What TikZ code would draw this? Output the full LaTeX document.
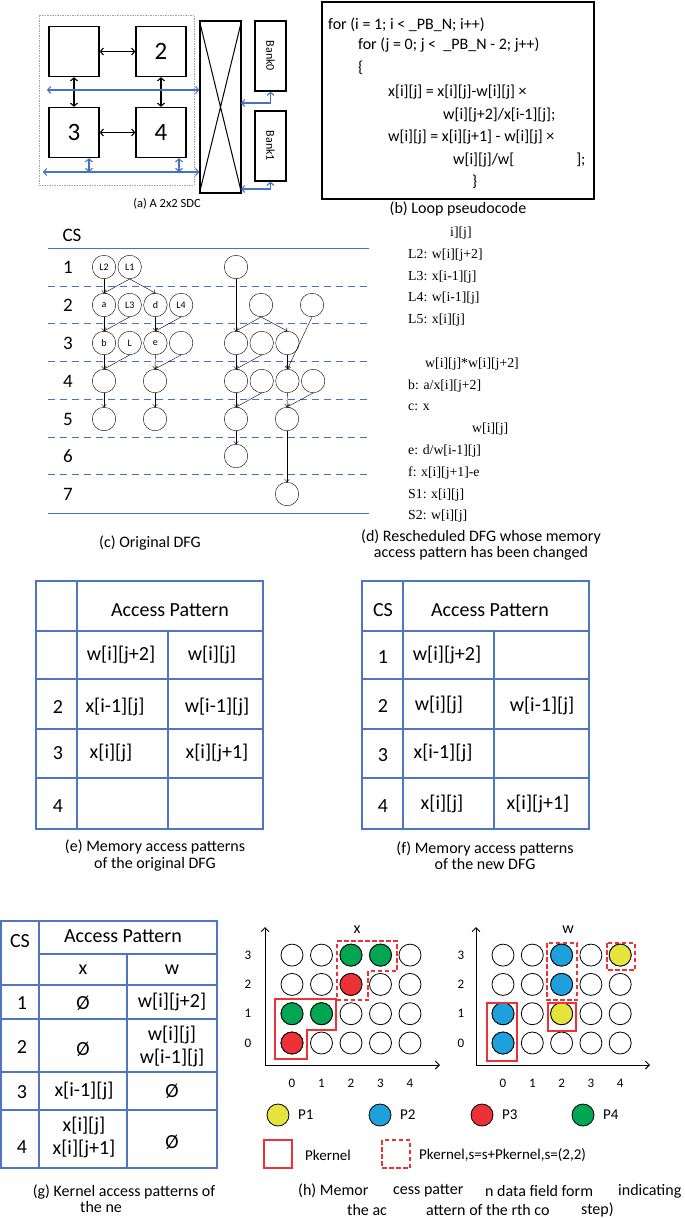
\documentclass[tikz,border=0pt]{standalone}
\usepackage{fontspec}
\setmainfont{Carlito}
\newfontfamily\timesfont{Liberation Serif}
\usetikzlibrary{arrows.meta,positioning}

\definecolor{lineblue}{RGB}{68,114,196}
\definecolor{tabblue}{RGB}{78,118,196}
\definecolor{pgreen}{RGB}{0,166,81}
\definecolor{pred}{RGB}{237,50,55}
\definecolor{pblue}{RGB}{30,160,220}
\definecolor{pyellow}{RGB}{228,228,60}

\tikzset{
  pe/.style={draw,line width=1.4pt,minimum size=50pt,inner sep=0pt,font=\fontsize{25}{28}\selectfont},
  bank/.style={draw,line width=1.4pt,minimum width=31pt,minimum height=70pt,inner sep=0pt,font=\fontsize{12}{13}\selectfont},
  link/.style={line width=1.1pt,{Straight Barb[length=3pt,width=7pt]}-{Straight Barb[length=3pt,width=7pt]}},
  bus/.style={link,lineblue},
  codeline/.style={anchor=west,inner sep=0pt,font=\fontsize{16}{18}\selectfont},
  capt/.style={align=center,font=\fontsize{16}{16.5}\selectfont},
  op/.style={circle,draw,minimum size=23.5pt,inner sep=0pt,font=\fontsize{10}{11}\selectfont},
  dep/.style={-{To[length=3pt,width=5pt]}},
  lvl/.style={lineblue,line width=1pt,dash pattern=on 7pt off 5pt},
  rowno/.style={font=\fontsize{19}{21}\selectfont},
  stmt/.style={anchor=west,inner sep=0pt,font=\timesfont\fontsize{13.8}{15}\selectfont},
  tab/.style={tabblue,line width=1.1pt},
  cell/.style={align=center,font=\fontsize{20}{23}\selectfont},
  dot/.style={circle,draw,line width=0.8pt,minimum size=22pt,inner sep=0pt,fill=white},
  kern/.style={pred,line width=1.1pt},
  kerns/.style={kern,dash pattern=on 4.5pt off 2.5pt},
  axis/.style={line width=1pt,-{Straight Barb[length=4pt,width=8pt]}},
  tick/.style={font=\fontsize{13}{14}\selectfont},
  keylabel/.style={anchor=west,inner sep=0pt,font=\fontsize{15}{16}\selectfont},
  hcap/.style={anchor=west,inner sep=0pt,font=\fontsize{16}{17}\selectfont},
}

\begin{document}
\begin{tikzpicture}[x=1pt,y=-1pt,node distance=1.8pt]
\useasboundingbox (0,0) rectangle (685,1218);

% (a) the SDC
\draw[gray!70,dash pattern=on 1.5pt off 1pt] (39,15) rectangle (194,185);
\node[pe] (pe1) at (74,51.5) {};
\node[pe] (pe2) at (161,51.5) {2};
\node[pe] (pe3) at (74,132.5) {3};
\node[pe] (pe4) at (161,132.5) {4};
\node[draw,line width=1.4pt,minimum width=41pt,minimum height=172pt] (xbar) at (220.5,107) {};
\draw[line width=1pt] (xbar.north west) -- (xbar.south east) (xbar.north east) -- (xbar.south west);
\node[bank] (bank0) at (270.5,56) {\rotatebox{-90}{Bank0}};
\node[bank] (bank1) at (270.5,146) {\rotatebox{-90}{Bank1}};

\draw[link] (pe1) -- (pe2);
\draw[link] (pe3) -- (pe4);
\draw[link] (pe1) -- (pe3);
\draw[link] (pe2) -- (pe4);

\coordinate (busA) at (47,90);
\coordinate (busB) at (43,172);
\draw[bus] (busA) -- (busA -| xbar.west);
\draw[bus] (busB) -- (busB -| xbar.west);
\draw[bus] ([xshift=15pt]pe3.south) -- ([xshift=15pt]pe3.south |- busB);
\draw[bus] ([xshift=18pt]pe4.south) -- ([xshift=18pt]pe4.south |- busB);
\coordinate (port0) at (241,103);
\coordinate (port1) at (241,189);
\draw[bus] (port0) -| (bank0.south);
\draw[bus] (port1) -| (bank1.south);
\node[capt,font=\fontsize{12.5}{14}\selectfont] (capa) at (167,204) {(a) A 2x2 SDC};

% (b) the loop
\node[draw,line width=1.4pt,minimum width=272pt,minimum height=197pt] (code) at (458,100.5) {};
\node[codeline] (code1) at (328,25) {for (i = 1; i < \_PB\_N; i++)};
\node[codeline] (code2) at (358,45) {for (j = 0; j <\ \ \_PB\_N - 2; j++)};
\node[codeline] (code3) at (358,68) {\{};
\node[codeline] (code4) at (388,92) {x[i][j] = x[i][j]-w[i][j] ×};
\node[codeline] (code5) at (443,115) {w[i][j+2]/x[i-1][j];};
\node[codeline] (code6) at (388,137) {w[i][j] = x[i][j+1] - w[i][j] ×};
\node[codeline] (code7) at (453,160) {w[i][j]/w[\hspace{62pt}];};
\node[codeline] (code8) at (472,182) {\}};
\node[capt] (capb) at (458,209) {(b) Loop pseudocode};

% (c) control steps
\node[rowno,anchor=west] (cs) at (59,235) {CS};
\draw[lineblue,line width=1pt] (48,248) -- (369,248);
\foreach \y in {286,323,361,399,437,474}
  \draw[lvl] (48,\y) -- (369,\y);
\draw[lineblue,line width=1pt] (48,513) -- (369,513);
\foreach \n/\y in {1/267,2/305,3/343,4/381,5/419,6/456,7/494}
  \node[rowno] (cs\n) at (68,\y) {\n};

\node[op] (l2) at (104,267) {L2};
\node[op,right=of l2] (l1) {L1};
\node[op] (a) at (104,305) {a};
\node[op,right=of a] (l3) {L3};
\node[op,right=of l3] (d) {d};
\node[op,right=of d] (l4) {L4};
\node[op] (b) at (104,343) {b};
\node[op,right=of b] (l5) {L};
\node[op,right=of l5] (e) {e};
\node[op,right=of e] (f) {};
\node[op] (m1) at (104,381) {};
\node[op] (m2) at (155,381) {};
\node[op] (s1) at (104,419) {};
\node[op] (s2) at (155,419) {};

\node[op] (r1) at (236,267) {};
\node[op] (r2a) at (261,305) {};
\node[op] (r2b) at (312,305) {};
\node[op] (r3a) at (236,343) {};
\node[op,right=of r3a] (r3b) {};
\node[op,right=of r3b] (r3c) {};
\node[op] (r4a) at (236,381) {};
\node[op,right=of r4a] (r4b) {};
\node[op,right=of r4b] (r4c) {};
\node[op,right=of r4c] (r4d) {};
\node[op] (r5a) at (236,419) {};
\node[op] (r5b) at (287,419) {};
\node[op] (r6) at (236,456) {};
\node[op] (r7) at (287,494) {};

\foreach \s/\t in {l2/a,l1/a,l1/d,a/b,l3/b,d/e,l4/e,b/m1,l5/m1,e/m2,f/m2,m1/s1,m2/s2,
    r1/r3a,r2a/r3a,r2a/r3c,r2b/r4c,r3a/r4a,r3b/r4a,r3c/r4c,r4a/r5a,r4b/r5a,r4c/r5b,r4d/r5b,r5a/r6,r5b/r7}
  \draw[dep] (\s.south) -- (\t.north);
\node[capt] (capc) at (150,543) {(c) Original DFG};

% (d) statements
\node[stmt] (st0) at (450,233) {i][j]};
\node[stmt] (st1) at (408,255) {L2: w[i][j+2]};
\node[stmt] (st2) at (408,277) {L3: x[i-1][j]};
\node[stmt] (st3) at (408,298) {L4: w[i-1][j]};
\node[stmt] (st4) at (408,320) {L5: x[i][j]};
\node[stmt] (st5) at (425,364) {w[i][j]*w[i][j+2]};
\node[stmt] (st6) at (408,386) {b: a/x[i][j+2]};
\node[stmt] (st7) at (408,407) {c: x};
\node[stmt] (st8) at (472,429) {w[i][j]};
\node[stmt] (st9) at (408,451) {e: d/w[i-1][j]};
\node[stmt] (st10) at (408,473) {f: x[i][j+1]-e};
\node[stmt] (st11) at (408,495) {S1: x[i][j]};
\node[stmt] (st12) at (408,516) {S2: w[i][j]};
\node[capt] (capd) at (481,545) {(d) Rescheduled DFG whose memory\\access pattern has been changed};

% (e) original patterns
\draw[tab] (36,581) rectangle (263,829);
\draw[tab] (77,581) -- (77,829);
\draw[tab] (168,631) -- (168,829);
\foreach \y in {631,679,729,778}
  \draw[tab] (36,\y) -- (263,\y);
\node[cell] (eh) at (170,610) {Access Pattern};
\node[cell] (e1a) at (121,655) {w[i][j+2]};
\node[cell] (e1b) at (212,655) {w[i][j]};
\node[cell] (e2) at (58,707) {2};
\node[cell] (e2a) at (115,707) {x[i-1][j]};
\node[cell] (e2b) at (217,707) {w[i-1][j]};
\node[cell] (e3) at (58,753) {3};
\node[cell] (e3a) at (111,753) {x[i][j]};
\node[cell] (e3b) at (217,753) {x[i][j+1]};
\node[cell] (e4) at (58,806) {4};
\node[capt] (cape) at (155,855.5) {(e) Memory access patterns\\of the original DFG};

% (f) new patterns
\draw[tab] (362,581) rectangle (589,829);
\draw[tab] (403,581) -- (403,829);
\draw[tab] (494,631) -- (494,829);
\foreach \y in {631,679,729,778}
  \draw[tab] (362,\y) -- (589,\y);
\node[cell] (fcs) at (383,610) {CS};
\node[cell] (fh) at (490,610) {Access Pattern};
\node[cell] (f1) at (383,657) {1};
\node[cell] (f1a) at (447,655) {w[i][j+2]};
\node[cell] (f2) at (383,706) {2};
\node[cell] (f2a) at (439,705) {w[i][j]};
\node[cell] (f2b) at (542,706) {w[i-1][j]};
\node[cell] (f3) at (383,755) {3};
\node[cell] (f3a) at (443,753) {x[i-1][j]};
\node[cell] (f4) at (383,806) {4};
\node[cell] (f4a) at (442,804) {x[i][j]};
\node[cell] (f4b) at (538,804) {x[i][j+1]};
\node[capt] (capf) at (485,855.5) {(f) Memory access patterns\\of the new DFG};

% (g) kernel patterns
\draw[tab] (1,921) rectangle (217,1168);
\draw[tab] (39,921) -- (39,1168);
\draw[tab] (39,954) -- (217,954);
\draw[tab] (127,954) -- (127,1168);
\foreach \y in {985,1019,1072,1110}
  \draw[tab] (1,\y) -- (217,\y);
\node[cell] (gcs) at (20,941) {CS};
\node[cell] (gh) at (123,936) {Access Pattern};
\node[cell] (gx) at (83,970) {x};
\node[cell] (gw) at (172,970) {w};
\node[cell] (g1) at (22,1003) {1};
\node[cell] (g1a) at (83,1003) {Ø};
\node[cell] (g1b) at (172,1002) {w[i][j+2]};
\node[cell] (g2) at (22,1047) {2};
\node[cell] (g2a) at (83,1049) {Ø};
\node[cell] (g2b) at (172,1046) {w[i][j]\\w[i-1][j]};
\node[cell] (g3) at (22,1092) {3};
\node[cell] (g3a) at (84,1091) {x[i-1][j]};
\node[cell] (g3b) at (172,1091) {Ø};
\node[cell] (g4) at (22,1147) {4};
\node[cell] (g4a) at (84,1137) {x[i][j]\\x[i][j+1]};
\node[cell] (g4b) at (172,1142) {Ø};
\node[capt] (capg) at (124,1192) {(g) Kernel access patterns of};
\node[hcap] (capg2) at (80,1207) {the ne};

% (h) data field of x
\coordinate (xo) at (265,1065);
\draw[axis] (xo) -- (265,927);
\draw[axis] (xo) -- (440,1065);
\foreach \c in {0,...,4}{
  \foreach \r in {0,...,3}
    \node[dot] (x\c\r) at (292+29.5*\c,1043-29.3*\r) {};
  \node[tick] (xt\c) at (292+29.5*\c,1083) {\c};
}
\foreach \r in {0,...,3}
  \node[tick] (xl\r) at (248,1043-29.3*\r) {\r};
\foreach \c/\r/\col in {2/3/pgreen,3/3/pgreen,2/2/pred,0/1/pgreen,1/1/pgreen,0/0/pred}
  \node[dot,fill=\col] (xp\c\r) at (x\c\r) {};
\draw[kern] (275,999) -- (336,999) -- (336,1030) -- (307,1030) -- (307,1059) -- (275,1059) -- cycle;
\draw[kerns] (337,941) -- (397,941) -- (397,971) -- (368,971) -- (368,1000) -- (337,1000) -- cycle;
\node[font=\fontsize{16}{17}\selectfont] (xname) at (357,930) {x};

% (h) data field of w
\coordinate (wo) at (476,1065);
\draw[axis] (wo) -- (476,927);
\draw[axis] (wo) -- (650,1065);
\foreach \c in {0,...,4}{
  \foreach \r in {0,...,3}
    \node[dot] (w\c\r) at (503+29.3*\c,1043-29.3*\r) {};
  \node[tick] (wt\c) at (503+29.3*\c,1083) {\c};
}
\foreach \r in {0,...,3}
  \node[tick] (wl\r) at (461,1043-29.3*\r) {\r};
\foreach \c/\r/\col in {2/3/pblue,4/3/pyellow,2/2/pblue,0/1/pblue,2/1/pyellow,0/0/pblue}
  \node[dot,fill=\col] (wp\c\r) at (w\c\r) {};
\draw[kern] (487,1003) rectangle (517,1061);
\draw[kern] (548,1003) rectangle (576,1031);
\draw[kerns] (547,943) rectangle (577,1000);
\draw[kerns] (607,943) rectangle (635,970);
\node[font=\fontsize{16}{17}\selectfont] (wname) at (568,930) {w};

% legend
\foreach \p/\x/\col in {1/278/pyellow,2/380/pblue,3/482/pred,4/583/pgreen}{
  \node[dot,fill=\col] (key\p) at (\x,1115) {};
  \node[keylabel] (keyl\p) at (\x+20,1115) {P\p};
}
\draw[kern] (264,1140) rectangle (292,1168);
\node[keylabel] (kl1) at (305,1155) {Pkernel};
\draw[kerns] (382,1140) rectangle (410,1168);
\node[keylabel] (kl2) at (419,1155) {Pkernel,s=s+Pkernel,s=(2,2)};

\node[hcap] (caph1) at (298,1191) {(h) Memor};
\node[hcap] (caph2) at (393,1191) {cess patter};
\node[hcap] (caph3) at (485,1191) {n data field form};
\node[hcap] (caph4) at (618,1191) {indicating};
\node[hcap] (caph5) at (347,1210) {the ac};
\node[hcap] (caph6) at (426,1210) {attern of the rth co};
\node[hcap] (caph7) at (581,1210) {step)};
\end{tikzpicture}
\end{document}
